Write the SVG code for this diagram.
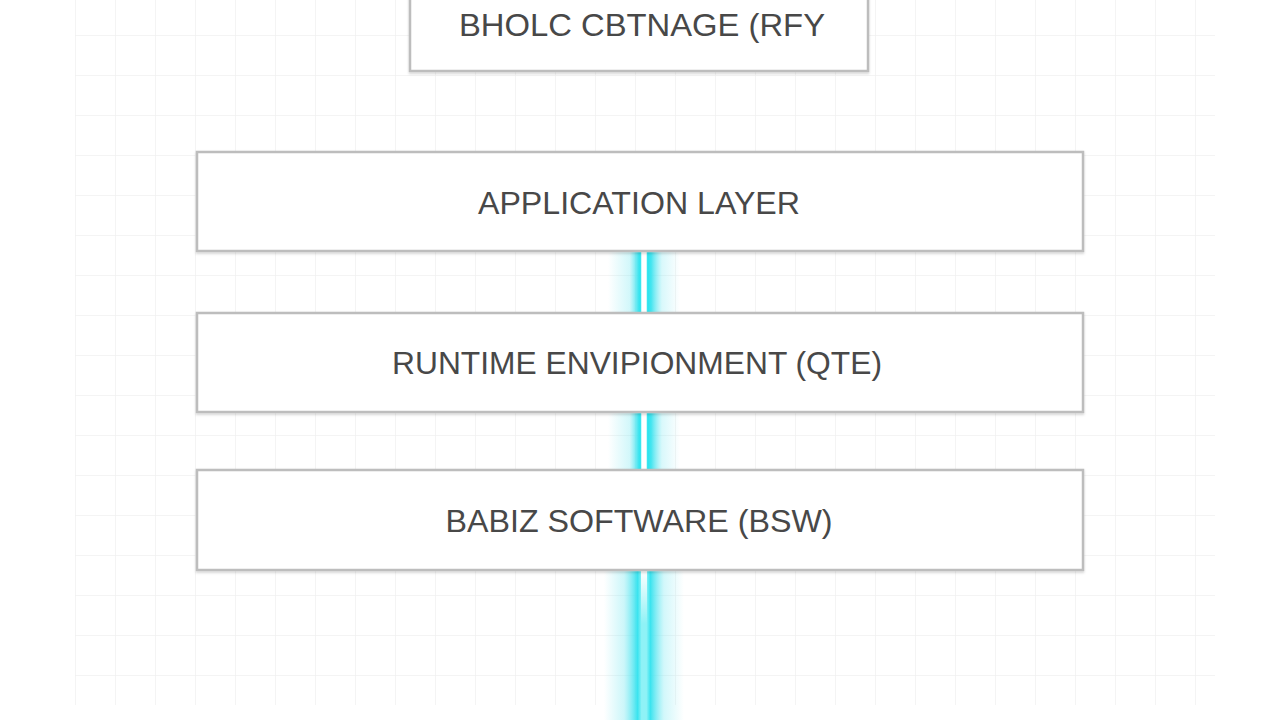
<svg xmlns="http://www.w3.org/2000/svg" width="1280" height="720" viewBox="0 0 1280 720">
  <defs>
    <pattern id="grid" x="75" y="-5" width="40" height="40" patternUnits="userSpaceOnUse">
      <path d="M40 0 L0 0 L0 40" fill="none" stroke="#f1f1f1" stroke-width="1.5"/>
    </pattern>
    <linearGradient id="glow" x1="0" y1="0" x2="1" y2="0">
      <stop offset="0" stop-color="#7fe9f2" stop-opacity="0"/>
      <stop offset="0.3" stop-color="#7fe9f2" stop-opacity="0.35"/>
      <stop offset="0.42" stop-color="#30e2ee" stop-opacity="0.9"/>
      <stop offset="0.45" stop-color="#28e4ee"/>
      <stop offset="0.47" stop-color="#ffffff"/>
      <stop offset="0.53" stop-color="#ffffff"/>
      <stop offset="0.55" stop-color="#28e4ee"/>
      <stop offset="0.6" stop-color="#30e2ee" stop-opacity="0.9"/>
      <stop offset="0.75" stop-color="#7fe9f2" stop-opacity="0.3"/>
      <stop offset="1" stop-color="#7fe9f2" stop-opacity="0"/>
    </linearGradient>
    <linearGradient id="glow2" x1="0" y1="0" x2="1" y2="0">
      <stop offset="0" stop-color="#7fe9f2" stop-opacity="0"/>
      <stop offset="0.25" stop-color="#7fe9f2" stop-opacity="0.4"/>
      <stop offset="0.42" stop-color="#30e2ee" stop-opacity="0.95"/>
      <stop offset="0.47" stop-color="#8ff2f6"/>
      <stop offset="0.53" stop-color="#8ff2f6"/>
      <stop offset="0.58" stop-color="#30e2ee" stop-opacity="0.95"/>
      <stop offset="0.75" stop-color="#7fe9f2" stop-opacity="0.35"/>
      <stop offset="1" stop-color="#7fe9f2" stop-opacity="0"/>
    </linearGradient>
    <linearGradient id="fadeV" x1="0" y1="0" x2="0" y2="1">
      <stop offset="0" stop-color="#ffffff" stop-opacity="1"/>
      <stop offset="0.6" stop-color="#ffffff" stop-opacity="0"/>
    </linearGradient>
    <filter id="shadow" x="-5%" y="-20%" width="110%" height="140%">
      <feDropShadow dx="0" dy="1.5" stdDeviation="1" flood-color="#000" flood-opacity="0.18"/>
    </filter>
  </defs>
  <style>
    .box { fill: #ffffff; stroke: #bdbdbd; stroke-width: 2.5; filter: url(#shadow); }
    .label { font-family: "Liberation Sans Narrow", "Liberation Sans", Arial, sans-serif; font-size: 31px; fill: #484848; text-anchor: middle; }
  </style>
  <rect width="1280" height="720" fill="#ffffff"/>
  <rect x="75" y="0" width="1140" height="705" fill="url(#grid)"/>

  <g id="connectors">
    <rect x="608" y="251" width="72" height="61" fill="url(#glow)"/>
    <rect x="608" y="412" width="72" height="57" fill="url(#glow)"/>
    <rect x="604" y="570" width="80" height="150" fill="url(#glow2)"/>
    <rect x="641" y="570" width="6" height="90" fill="url(#fadeV)"/>
  </g>

  <g id="node-top">
    <rect class="box" x="410" y="-10" width="458" height="81"/>
    <text class="label" x="642" y="36" textLength="366" lengthAdjust="spacingAndGlyphs">BHOLC CBTNAGE (RFY</text>
  </g>
  <g id="node-app">
    <rect class="box" x="197" y="152" width="886" height="99"/>
    <text class="label" x="639" y="214" textLength="322" lengthAdjust="spacingAndGlyphs">APPLICATION LAYER</text>
  </g>
  <g id="node-rte">
    <rect class="box" x="197" y="313" width="886" height="99"/>
    <text class="label" x="637" y="374" textLength="490" lengthAdjust="spacingAndGlyphs">RUNTIME ENVIPIONMENT (QTE)</text>
  </g>
  <g id="node-bsw">
    <rect class="box" x="197" y="470" width="886" height="100"/>
    <text class="label" x="639" y="532" textLength="387" lengthAdjust="spacingAndGlyphs">BABIZ SOFTWARE (BSW)</text>
  </g>
</svg>
